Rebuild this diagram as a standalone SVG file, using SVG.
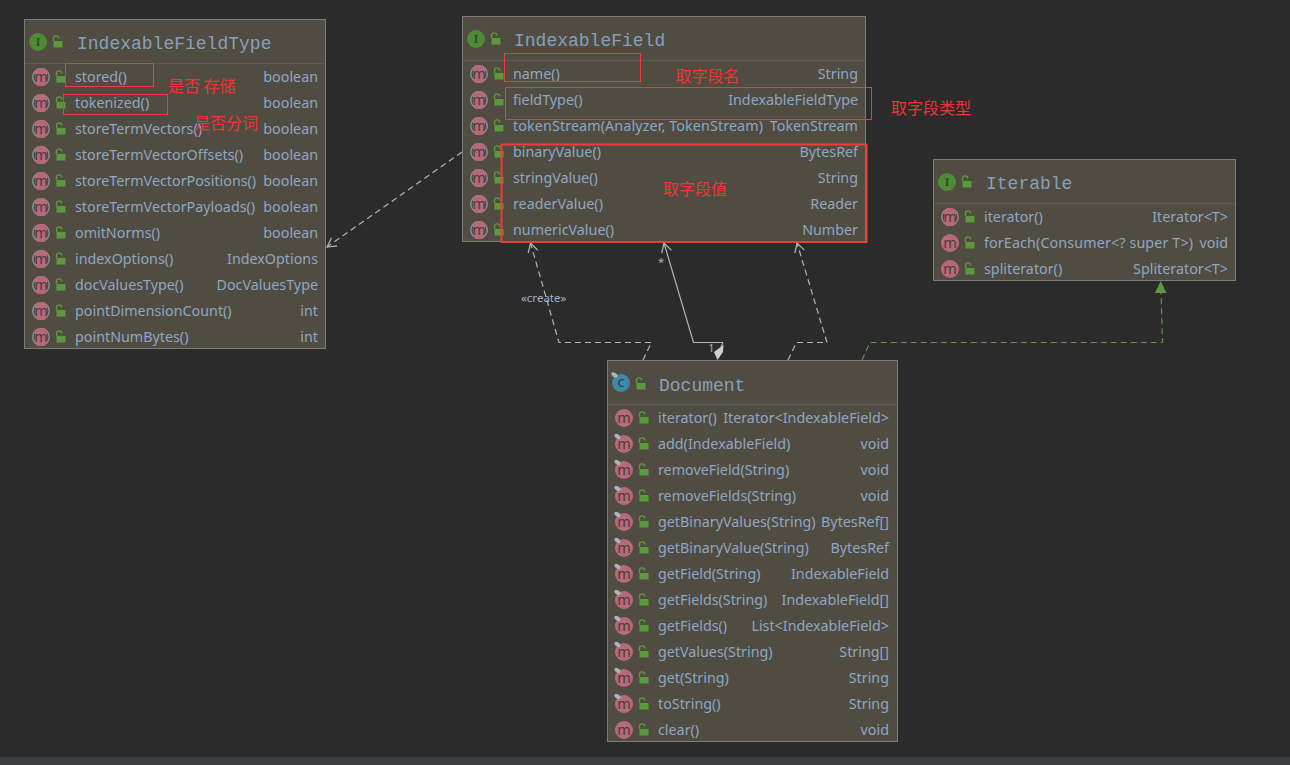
<svg xmlns="http://www.w3.org/2000/svg" width="1290" height="765" viewBox="0 0 1290 765">
<style>
.box{fill:#504c41;stroke:#7d7c77;stroke-width:1}
.sep{stroke:#5d5b59;stroke-width:1}
.title{font-family:"Liberation Mono","DejaVu Sans Mono",monospace;font-size:18px;fill:#87a0ba}
.t{font-family:"Noto Sans","Open Sans",sans-serif;font-size:14.3px;fill:#8ea7c4}
.r{text-anchor:end}
.ic{font-family:"Noto Sans",sans-serif;font-size:14.5px;fill:#4c3a3a;text-anchor:middle}
.icb{font-family:"Liberation Serif",serif;font-weight:bold;font-size:12px;fill:#2f4a25;text-anchor:middle}
.cn{fill:none;stroke:#b4b4b4;stroke-width:1.2}
.dash{stroke-dasharray:6 4}
.lbl{font-family:"Noto Sans",sans-serif;font-size:11.5px;fill:#9fb3c8}
.red{fill:none;stroke:#ef3b3b;stroke-width:1}
.note{font-family:"Noto Sans CJK SC","Noto Sans",sans-serif;font-size:16px;fill:#f03434}
</style>
<defs>
<marker id="open" markerWidth="14" markerHeight="14" refX="11" refY="6" orient="auto" markerUnits="userSpaceOnUse"><path d="M2,1 L11,6 L2,11" fill="none" stroke="#b4b4b4" stroke-width="1.2"/></marker>
<g id="lock"><rect x="-3.5" y="-1" width="9" height="6.5" fill="#5a9a3d"/><path d="M-3.5,-1 V-3.5 a2.6,2.6 0 0 1 5.2,0" fill="none" stroke="#5a9a3d" stroke-width="1.4"/></g>
<g id="m"><circle r="9" fill="#b5697a"/><text class="ic" y="4.5">m</text></g>
<g id="mo"><circle r="9" fill="#b5697a"/><ellipse cx="-6.5" cy="-7.5" rx="3.5" ry="2" transform="rotate(35 -6.5 -7.5)" fill="#a9b4bb"/><text class="ic" y="4.5">m</text></g>
<g id="ma"><circle r="8.3" fill="#504c41" stroke="#8c8c8c" stroke-width="1.5"/><rect x="-6" y="-9" width="12" height="18" rx="4.5" fill="#b5697a"/><text class="ic" y="4.5">m</text></g>
<g id="I"><circle r="9" fill="#4f8a36"/><text class="icb" y="4">I</text></g>
<g id="C"><circle r="9" fill="#3f88a8"/><ellipse cx="-6.5" cy="-8" rx="3.5" ry="2" transform="rotate(35 -6.5 -8)" fill="#a9b4bb"/><text class="ic" y="4" style="fill:#24404d">c</text></g>
</defs>
<rect width="1290" height="765" fill="#2b2b2b"/>
<rect y="757" width="1290" height="8" fill="#3c3f41"/>
<g id="connectors">
<path class="cn dash" d="M462,152 L327,247" marker-end="url(#open)"/>
<path class="cn dash" d="M643,360 L651.5,342.5 H559 L530.5,243" marker-end="url(#open)"/>
<path class="cn" d="M723,342.5 H693.5 L664,243" marker-end="url(#open)"/>
<path d="M723.5,345 L723,352 L717.5,360 L714,352 Z" fill="#d0d0d0"/>
<path class="cn" d="M723,342.5 L721,347"/>
<path class="cn dash" d="M788,360 L796.5,342.5 H827 L797,243" marker-end="url(#open)"/>
<path d="M862,360 L870,342.5 H1162.5 L1161,292" fill="none" stroke="#5a9a3d" stroke-width="1.2" stroke-dasharray="6 4"/>
<path d="M1160.7,281 L1166.5,293 H1155 Z" fill="#5a9a3d"/>
<text class="lbl" x="521" y="302">«create»</text>
<text class="lbl" x="658" y="266">*</text>
<text class="lbl" x="708" y="352">1</text>
</g>
<g id="IndexableFieldType">
<rect class="box" x="24.5" y="19.5" width="301" height="329"/>
<line class="sep" x1="25" y1="63.5" x2="325" y2="63.5"/>
<use href="#I" x="38" y="42"/><use href="#lock" x="57" y="42"/>
<text class="title" x="77" y="49">IndexableFieldType</text>
<use href="#ma" x="41" y="77"/><use href="#lock" x="60" y="77"/><text class="t" x="75" y="82">stored()</text><text class="t r" x="318" y="82">boolean</text>
<use href="#ma" x="41" y="103"/><use href="#lock" x="60" y="103"/><text class="t" x="75" y="108">tokenized()</text><text class="t r" x="318" y="108">boolean</text>
<use href="#ma" x="41" y="129"/><use href="#lock" x="60" y="129"/><text class="t" x="75" y="134">storeTermVectors()</text><text class="t r" x="318" y="134">boolean</text>
<use href="#ma" x="41" y="155"/><use href="#lock" x="60" y="155"/><text class="t" x="75" y="160">storeTermVectorOffsets()</text><text class="t r" x="318" y="160">boolean</text>
<use href="#ma" x="41" y="181"/><use href="#lock" x="60" y="181"/><text class="t" x="75" y="186">storeTermVectorPositions()</text><text class="t r" x="318" y="186">boolean</text>
<use href="#ma" x="41" y="207"/><use href="#lock" x="60" y="207"/><text class="t" x="75" y="212">storeTermVectorPayloads()</text><text class="t r" x="318" y="212">boolean</text>
<use href="#ma" x="41" y="233"/><use href="#lock" x="60" y="233"/><text class="t" x="75" y="238">omitNorms()</text><text class="t r" x="318" y="238">boolean</text>
<use href="#ma" x="41" y="259"/><use href="#lock" x="60" y="259"/><text class="t" x="75" y="264">indexOptions()</text><text class="t r" x="318" y="264">IndexOptions</text>
<use href="#ma" x="41" y="285"/><use href="#lock" x="60" y="285"/><text class="t" x="75" y="290">docValuesType()</text><text class="t r" x="318" y="290">DocValuesType</text>
<use href="#ma" x="41" y="311"/><use href="#lock" x="60" y="311"/><text class="t" x="75" y="316">pointDimensionCount()</text><text class="t r" x="318" y="316">int</text>
<use href="#ma" x="41" y="337"/><use href="#lock" x="60" y="337"/><text class="t" x="75" y="342">pointNumBytes()</text><text class="t r" x="318" y="342">int</text>
</g>
<g id="IndexableField">
<rect class="box" x="462.5" y="16.5" width="403" height="225"/>
<line class="sep" x1="463" y1="60.5" x2="865" y2="60.5"/>
<use href="#I" x="476" y="39"/><use href="#lock" x="495" y="39"/>
<text class="title" x="514" y="46">IndexableField</text>
<use href="#ma" x="479" y="74"/><use href="#lock" x="498" y="74"/><text class="t" x="513" y="79">name()</text><text class="t r" x="858" y="79">String</text>
<use href="#ma" x="479" y="100"/><use href="#lock" x="498" y="100"/><text class="t" x="513" y="105">fieldType()</text><text class="t r" x="858" y="105">IndexableFieldType</text>
<use href="#ma" x="479" y="126"/><use href="#lock" x="498" y="126"/><text class="t" x="513" y="131" textLength="250">tokenStream(Analyzer, TokenStream)</text><text class="t r" x="858" y="131">TokenStream</text>
<use href="#ma" x="479" y="152"/><use href="#lock" x="498" y="152"/><text class="t" x="513" y="157">binaryValue()</text><text class="t r" x="858" y="157">BytesRef</text>
<use href="#ma" x="479" y="178"/><use href="#lock" x="498" y="178"/><text class="t" x="513" y="183">stringValue()</text><text class="t r" x="858" y="183">String</text>
<use href="#ma" x="479" y="204"/><use href="#lock" x="498" y="204"/><text class="t" x="513" y="209">readerValue()</text><text class="t r" x="858" y="209">Reader</text>
<use href="#ma" x="479" y="230"/><use href="#lock" x="498" y="230"/><text class="t" x="513" y="235">numericValue()</text><text class="t r" x="858" y="235">Number</text>
</g>
<g id="Iterable">
<rect class="box" x="933.5" y="159.5" width="302" height="121"/>
<line class="sep" x1="934" y1="203.5" x2="1235" y2="203.5"/>
<use href="#I" x="947" y="182"/><use href="#lock" x="966" y="182"/>
<text class="title" x="986" y="189">Iterable</text>
<use href="#ma" x="950" y="217"/><use href="#lock" x="969" y="217"/><text class="t" x="984" y="222">iterator()</text><text class="t r" x="1228" y="222">Iterator&lt;T&gt;</text>
<use href="#m" x="950" y="243"/><use href="#lock" x="969" y="243"/><text class="t" x="984" y="248" textLength="209">forEach(Consumer&lt;? super T&gt;)</text><text class="t r" x="1228" y="248">void</text>
<use href="#m" x="950" y="269"/><use href="#lock" x="969" y="269"/><text class="t" x="984" y="274">spliterator()</text><text class="t r" x="1228" y="274">Spliterator&lt;T&gt;</text>
</g>
<g id="Document">
<rect class="box" x="607.5" y="360.5" width="290" height="381"/>
<line class="sep" x1="608" y1="404.5" x2="897" y2="404.5"/>
<use href="#C" x="621" y="383"/><use href="#lock" x="640" y="384"/>
<text class="title" x="659" y="391">Document</text>
<use href="#m" x="624" y="418"/><use href="#lock" x="643" y="418"/><text class="t" x="658" y="423">iterator()</text><text class="t r" x="889" y="423">Iterator&lt;IndexableField&gt;</text>
<use href="#mo" x="624" y="444"/><use href="#lock" x="643" y="444"/><text class="t" x="658" y="449">add(IndexableField)</text><text class="t r" x="889" y="449">void</text>
<use href="#mo" x="624" y="470"/><use href="#lock" x="643" y="470"/><text class="t" x="658" y="475">removeField(String)</text><text class="t r" x="889" y="475">void</text>
<use href="#mo" x="624" y="496"/><use href="#lock" x="643" y="496"/><text class="t" x="658" y="501">removeFields(String)</text><text class="t r" x="889" y="501">void</text>
<use href="#mo" x="624" y="522"/><use href="#lock" x="643" y="522"/><text class="t" x="658" y="527">getBinaryValues(String)</text><text class="t r" x="889" y="527">BytesRef[]</text>
<use href="#mo" x="624" y="548"/><use href="#lock" x="643" y="548"/><text class="t" x="658" y="553">getBinaryValue(String)</text><text class="t r" x="889" y="553">BytesRef</text>
<use href="#mo" x="624" y="574"/><use href="#lock" x="643" y="574"/><text class="t" x="658" y="579">getField(String)</text><text class="t r" x="889" y="579">IndexableField</text>
<use href="#mo" x="624" y="600"/><use href="#lock" x="643" y="600"/><text class="t" x="658" y="605">getFields(String)</text><text class="t r" x="889" y="605">IndexableField[]</text>
<use href="#mo" x="624" y="626"/><use href="#lock" x="643" y="626"/><text class="t" x="658" y="631">getFields()</text><text class="t r" x="889" y="631">List&lt;IndexableField&gt;</text>
<use href="#mo" x="624" y="652"/><use href="#lock" x="643" y="652"/><text class="t" x="658" y="657">getValues(String)</text><text class="t r" x="889" y="657">String[]</text>
<use href="#mo" x="624" y="678"/><use href="#lock" x="643" y="678"/><text class="t" x="658" y="683">get(String)</text><text class="t r" x="889" y="683">String</text>
<use href="#mo" x="624" y="704"/><use href="#lock" x="643" y="704"/><text class="t" x="658" y="709">toString()</text><text class="t r" x="889" y="709">String</text>
<use href="#m" x="624" y="730"/><use href="#lock" x="643" y="730"/><text class="t" x="658" y="735">clear()</text><text class="t r" x="889" y="735">void</text>
</g>
<g id="annotations">
<rect class="red" x="65.5" y="63.5" width="88" height="23"/>
<rect class="red" x="63.5" y="94.5" width="104" height="20"/>
<rect class="red" x="504.5" y="53.5" width="136" height="28"/>
<rect class="red" x="505.5" y="87.5" width="366" height="32" style="stroke:#a85a55"/>
<rect class="red" x="501.5" y="144.5" width="365" height="97.5" style="stroke-width:2"/>
<text class="note" x="168" y="92">是否 存储</text>
<text class="note" x="194" y="129">是否分词</text>
<text class="note" x="675.5" y="82">取字段名</text>
<text class="note" x="891" y="114">取字段类型</text>
<text class="note" x="663" y="195">取字段值</text>
</g>
</svg>
